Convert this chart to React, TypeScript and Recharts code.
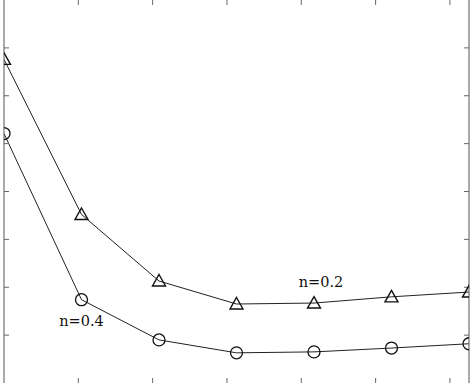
import React from 'react';
import { LineChart, Line, XAxis, YAxis, ReferenceDot } from 'recharts';

const xValues = [0, 1, 2, 3, 4, 5, 6];
const seriesN02 = [6.76, 3.52, 2.13, 1.65, 1.67, 1.8, 1.9];
const seriesN04 = [5.21, 1.74, 0.9, 0.63, 0.65, 0.73, 0.82];
const xTicks = [0.959, 1.918, 2.877, 3.836, 4.795, 5.754];
const yTicks = [1, 2, 3, 4, 5, 6, 7];
const labelN02 = { x: 4.09, y: 2.11, text: 'n=0.2' };
const labelN04 = { x: 1.0, y: 1.3, text: 'n=0.4' };

const data = xValues.map((x, i) => ({ x, a: seriesN02[i], b: seriesN04[i] }));

const Triangle = (props: any) => {
  const { cx, cy } = props;
  if (cx == null || cy == null) return null;
  const w = 6.5;
  return (
    <path
      d={`M${cx},${cy - 6.5} L${cx + w},${cy + 5} L${cx - w},${cy + 5} Z`}
      fill="none"
      stroke="#111"
      strokeWidth={1.4}
    />
  );
};

const Circle = (props: any) => {
  const { cx, cy } = props;
  if (cx == null || cy == null) return null;
  return <circle cx={cx} cy={cy} r={6} fill="none" stroke="#111" strokeWidth={1.3} />;
};

const textShape = (t: string) => (props: any) => (
  <text
    x={props.cx}
    y={props.cy}
    textAnchor="middle"
    dominantBaseline="central"
    fontFamily="'DejaVu Serif', 'Liberation Serif', serif"
    fontSize={14.5}
    fill="#111"
  >
    {t}
  </text>
);

const noLabel = () => '';

export default function App() {
  return (
    <div style={{ position: 'absolute', left: 0, top: 0 }}>
      <LineChart
        width={474}
        height={383}
        data={data}
        margin={{ top: 0, right: 5, bottom: 0, left: 4 }}
      >
        <XAxis
          xAxisId="bottom"
          dataKey="x"
          type="number"
          domain={[0, 6]}
          ticks={xTicks}
          orientation="bottom"
          height={1}
          mirror
          axisLine={false}
          tickSize={5}
          tickLine={{ stroke: '#666' }}
          tickFormatter={noLabel}
          allowDataOverflow
        />
        <XAxis
          xAxisId="top"
          dataKey="x"
          type="number"
          domain={[0, 6]}
          ticks={xTicks}
          orientation="top"
          height={1}
          mirror
          axisLine={false}
          tickSize={5}
          tickLine={{ stroke: '#666' }}
          tickFormatter={noLabel}
          allowDataOverflow
        />
        <YAxis
          yAxisId="left"
          type="number"
          domain={[0, 8]}
          ticks={yTicks}
          orientation="left"
          width={1}
          mirror
          axisLine={{ stroke: '#555' }}
          tickSize={5}
          tickLine={{ stroke: '#666' }}
          tickFormatter={noLabel}
          allowDataOverflow
        />
        <YAxis
          yAxisId="right"
          type="number"
          domain={[0, 8]}
          ticks={yTicks}
          orientation="right"
          width={1}
          mirror
          axisLine={{ stroke: '#555' }}
          tickSize={5}
          tickLine={{ stroke: '#666' }}
          tickFormatter={noLabel}
          allowDataOverflow
        />
        <Line
          xAxisId="bottom"
          yAxisId="left"
          dataKey="a"
          stroke="#222"
          strokeWidth={1}
          dot={<Triangle />}
          isAnimationActive={false}
        />
        <Line
          xAxisId="bottom"
          yAxisId="left"
          dataKey="b"
          stroke="#222"
          strokeWidth={1}
          dot={<Circle />}
          isAnimationActive={false}
        />
        <ReferenceDot
          xAxisId="bottom"
          yAxisId="left"
          x={labelN02.x}
          y={labelN02.y}
          r={0}
          shape={textShape(labelN02.text)}
        />
        <ReferenceDot
          xAxisId="bottom"
          yAxisId="left"
          x={labelN04.x}
          y={labelN04.y}
          r={0}
          shape={textShape(labelN04.text)}
        />
      </LineChart>
    </div>
  );
}
